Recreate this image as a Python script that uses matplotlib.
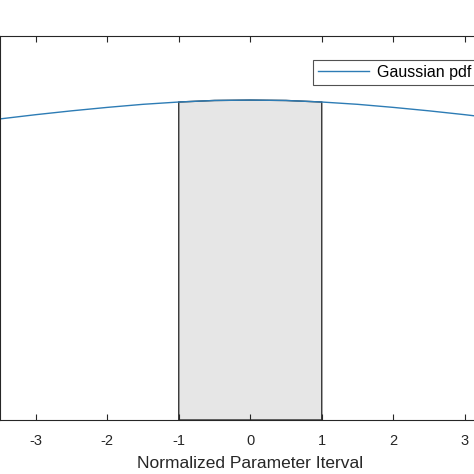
import numpy as np
import matplotlib
matplotlib.use("Agg")
import matplotlib.pyplot as plt
from matplotlib.patches import Polygon

plt.rcParams['font.family'] = ['Liberation Sans', 'DejaVu Sans']

x_vals = [-3.5, -3.0, -2.5, -2.0, -1.5, -1.0, -0.5, 0.0, 0.5, 1.0, 1.5, 2.0, 2.5, 3.0, 3.5]
pdf_vals = [0.784, 0.795, 0.805, 0.814, 0.822, 0.828, 0.832, 0.833, 0.832, 0.828, 0.822, 0.814, 0.805, 0.795, 0.784]
interval = [-1.0, 1.0]
xticks = [-3, -2, -1, 0, 1, 2, 3]

fig = plt.figure(figsize=(4.74, 4.74), dpi=100)
ax = fig.add_axes([0.0, 0.114, 7 * 71.5 / 474, 384 / 474])
ax.plot(x_vals, pdf_vals, color='#2d7cb5', lw=1.0, label='Gaussian pdf N(0,1)')

xs = np.array(x_vals); ys = np.array(pdf_vals)
m = (xs >= interval[0]) & (xs <= interval[1])
poly = [(interval[0], 0)] + list(zip(xs[m], ys[m])) + [(interval[1], 0)]
ax.add_patch(Polygon(poly, closed=True, facecolor='#e6e6e6', edgecolor='#333333', lw=1.0))

ax.set_xlim(-3.5, 3.5)
ax.set_ylim(0, 1)
ax.set_xticks(xticks)
ax.set_xticklabels([str(t) for t in xticks])
ax.set_yticks([])
ax.tick_params(axis='x', direction='in', top=True, length=4, labelsize=10.5, colors='#262626', pad=10)
for s in ax.spines.values():
    s.set_color('#262626'); s.set_linewidth(0.8)
ax.set_xlabel('Normalized Parameter Iterval', fontsize=12.5, color='#262626', labelpad=6)
leg = ax.legend(loc='upper left', bbox_to_anchor=(305 / 474, 1 - 52 / 474), bbox_transform=fig.transFigure,
                fancybox=False, edgecolor='#262626', fontsize=11.5, handlelength=3.2, borderpad=0.3,
                handletextpad=0.5)
leg.get_frame().set_linewidth(0.8)
fig.savefig('out.png', dpi=100)
